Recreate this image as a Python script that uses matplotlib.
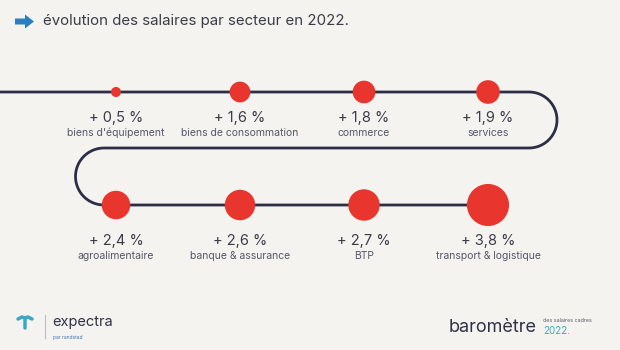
import numpy as np
import matplotlib
matplotlib.use("Agg")
import matplotlib.pyplot as plt
from matplotlib.patches import Circle, FancyArrow, PathPatch
from matplotlib.path import Path

# Data
sectors = ["biens d'équipement", "biens de consommation", "commerce", "services",
           "agroalimentaire", "banque & assurance", "BTP", "transport & logistique"]
growth = [0.5, 1.6, 1.8, 1.9, 2.4, 2.6, 2.7, 3.8]
title = "évolution des salaires par secteur en 2022."

bg = "#f5f3ef"
navy = "#2c2e45"
red = "#e8352e"
txt = "#3a3c48"
cyan = "#3ba7c6"

plt.rcParams['font.family'] = ['Inter', 'DejaVu Sans']

fig = plt.figure(figsize=(6.2, 3.5), dpi=100, facecolor=bg)
ax = fig.add_axes([0, 0, 1, 1])
ax.set_xlim(0, 620)
ax.set_ylim(350, 0)
ax.set_aspect('equal')
ax.axis('off')
ax.set_facecolor(bg)

# snake-shaped track (pixel coords)
rows_y = [92, 148, 205]
col_x = [116, 240, 364, 488]
r_turn = (rows_y[1] - rows_y[0]) / 2

def arc(cx, cy, r, a0, a1, n=40):
    t = np.linspace(a0, a1, n)
    return np.column_stack([cx + r * np.cos(t), cy + r * np.sin(t)])

pts = [[0, rows_y[0]], [529, rows_y[0]]]
pts += arc(529, rows_y[0] + r_turn, r_turn, -np.pi / 2, np.pi / 2).tolist()
pts += [[104, rows_y[1]]]
r2 = (rows_y[2] - rows_y[1]) / 2
pts += arc(104, rows_y[1] + r2, r2, -np.pi / 2, -3 * np.pi / 2).tolist()
pts += [[col_x[-1], rows_y[2]]]
ax.add_patch(PathPatch(Path(np.array(pts)), fill=False, edgecolor=navy, lw=2.0,
                       capstyle='butt', joinstyle='round', zorder=2))

for i, (name, v) in enumerate(zip(sectors, growth)):
    row = i // 4
    x = col_x[i % 4]
    y = rows_y[0] if row == 0 else rows_y[2]
    r = 2.6 + 4.85 * v
    ax.add_patch(Circle((x, y), r, facecolor=red, edgecolor='none', zorder=3))
    off = 26 if row == 0 else 36
    lab = "+ " + f"{v:.1f}".replace(".", ",") + " %"
    ax.text(x, y + off, lab, ha='center', va='center', fontsize=10.5, color=txt)
    ax.text(x, y + off + 15, name, ha='center', va='center', fontsize=7.5, color="#55576a")

# title with arrow icon
ax.add_patch(FancyArrow(15, 21.5, 10, 0, width=6, head_width=14, head_length=9,
                        length_includes_head=False, color="#2a7fc1", lw=0))
ax.text(43, 21, title, ha='left', va='center', fontsize=10.8, color=txt)

# expectra logo
ax.plot([18, 22, 25, 25], [319, 317, 318, 328], color=cyan, lw=2.5, solid_capstyle='round')
ax.plot([32, 28, 25], [319, 317, 318], color=cyan, lw=2.5, solid_capstyle='round')
ax.plot([45, 45], [315, 338], color="#b9bcc4", lw=0.8)
ax.text(52, 322, "expectra", ha='left', va='center', fontsize=10.5, color="#2f3248")
ax.text(53, 337, "par randstad", ha='left', va='center', fontsize=3.5, color="#3a78b5")

# barometre logo
ax.text(449, 328, "baromètre", ha='left', va='center', fontsize=13, color="#2f3248")
ax.text(543, 321, "des salaires cadres", ha='left', va='center', fontsize=3.8, color="#5a5c6a")
ax.text(543, 331, "2022.", ha='left', va='center', fontsize=7, color=cyan)

fig.savefig("out.png", dpi=100, facecolor=bg)
